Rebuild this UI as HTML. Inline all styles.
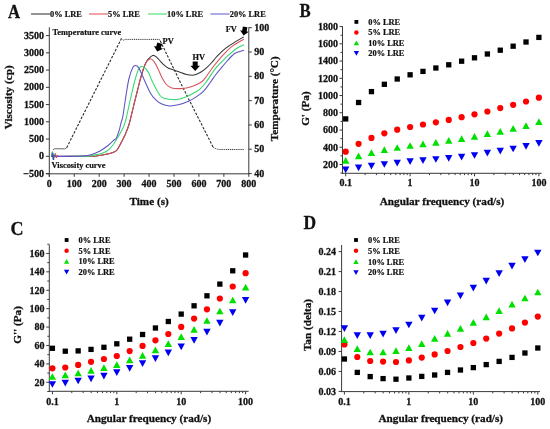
<!DOCTYPE html>
<html><head><meta charset="utf-8"><style>
html,body{margin:0;padding:0;background:#fff;}
body{width:550px;height:429px;overflow:hidden;}
svg{display:block;will-change:transform;}
text{font-family:"Liberation Serif",serif;font-weight:bold;fill:#111;stroke:#111;stroke-width:0.28px;}
</style></head><body>
<svg width="550" height="429" viewBox="0 0 550 429">
<rect width="550" height="429" fill="#fff"/>
<line x1="49.3" y1="27.3" x2="49.3" y2="176.8" stroke="#3a3a3a" stroke-width="1"/>
<line x1="46" y1="173.8" x2="248.8" y2="173.8" stroke="#3a3a3a" stroke-width="1"/>
<line x1="248.8" y1="27.3" x2="248.8" y2="174.3" stroke="#3a3a3a" stroke-width="1"/>
<line x1="45.9" y1="173.55" x2="49.3" y2="173.55" stroke="#3a3a3a" stroke-width="1"/>
<text x="44" y="176.55" font-size="10" text-anchor="end">&#8722;500</text>
<line x1="45.9" y1="156.3" x2="49.3" y2="156.3" stroke="#3a3a3a" stroke-width="1"/>
<text x="44" y="159.3" font-size="10" text-anchor="end">0</text>
<line x1="45.9" y1="139.06" x2="49.3" y2="139.06" stroke="#3a3a3a" stroke-width="1"/>
<text x="44" y="142.06" font-size="10" text-anchor="end">500</text>
<line x1="45.9" y1="121.81" x2="49.3" y2="121.81" stroke="#3a3a3a" stroke-width="1"/>
<text x="44" y="124.81" font-size="10" text-anchor="end">1000</text>
<line x1="45.9" y1="104.57" x2="49.3" y2="104.57" stroke="#3a3a3a" stroke-width="1"/>
<text x="44" y="107.57" font-size="10" text-anchor="end">1500</text>
<line x1="45.9" y1="87.32" x2="49.3" y2="87.32" stroke="#3a3a3a" stroke-width="1"/>
<text x="44" y="90.32" font-size="10" text-anchor="end">2000</text>
<line x1="45.9" y1="70.08" x2="49.3" y2="70.08" stroke="#3a3a3a" stroke-width="1"/>
<text x="44" y="73.08" font-size="10" text-anchor="end">2500</text>
<line x1="45.9" y1="52.83" x2="49.3" y2="52.83" stroke="#3a3a3a" stroke-width="1"/>
<text x="44" y="55.83" font-size="10" text-anchor="end">3000</text>
<line x1="45.9" y1="35.59" x2="49.3" y2="35.59" stroke="#3a3a3a" stroke-width="1"/>
<text x="44" y="38.59" font-size="10" text-anchor="end">3500</text>
<line x1="49.3" y1="173.8" x2="49.3" y2="176.8" stroke="#3a3a3a" stroke-width="1"/>
<text x="49.3" y="187.2" font-size="10" text-anchor="middle">0</text>
<line x1="74.24" y1="173.8" x2="74.24" y2="176.8" stroke="#3a3a3a" stroke-width="1"/>
<text x="74.24" y="187.2" font-size="10" text-anchor="middle">100</text>
<line x1="99.18" y1="173.8" x2="99.18" y2="176.8" stroke="#3a3a3a" stroke-width="1"/>
<text x="99.18" y="187.2" font-size="10" text-anchor="middle">200</text>
<line x1="124.11" y1="173.8" x2="124.11" y2="176.8" stroke="#3a3a3a" stroke-width="1"/>
<text x="124.11" y="187.2" font-size="10" text-anchor="middle">300</text>
<line x1="149.05" y1="173.8" x2="149.05" y2="176.8" stroke="#3a3a3a" stroke-width="1"/>
<text x="149.05" y="187.2" font-size="10" text-anchor="middle">400</text>
<line x1="173.99" y1="173.8" x2="173.99" y2="176.8" stroke="#3a3a3a" stroke-width="1"/>
<text x="173.99" y="187.2" font-size="10" text-anchor="middle">500</text>
<line x1="198.93" y1="173.8" x2="198.93" y2="176.8" stroke="#3a3a3a" stroke-width="1"/>
<text x="198.93" y="187.2" font-size="10" text-anchor="middle">600</text>
<line x1="223.87" y1="173.8" x2="223.87" y2="176.8" stroke="#3a3a3a" stroke-width="1"/>
<text x="223.87" y="187.2" font-size="10" text-anchor="middle">700</text>
<line x1="248.8" y1="173.8" x2="248.8" y2="176.8" stroke="#3a3a3a" stroke-width="1"/>
<text x="248.8" y="187.2" font-size="10" text-anchor="middle">800</text>
<line x1="248.8" y1="173.6" x2="251.8" y2="173.6" stroke="#3a3a3a" stroke-width="1"/>
<text x="254.2" y="176.6" font-size="10" text-anchor="start">40</text>
<line x1="248.8" y1="149.28" x2="251.8" y2="149.28" stroke="#3a3a3a" stroke-width="1"/>
<text x="254.2" y="152.28" font-size="10" text-anchor="start">50</text>
<line x1="248.8" y1="124.96" x2="251.8" y2="124.96" stroke="#3a3a3a" stroke-width="1"/>
<text x="254.2" y="127.96" font-size="10" text-anchor="start">60</text>
<line x1="248.8" y1="100.64" x2="251.8" y2="100.64" stroke="#3a3a3a" stroke-width="1"/>
<text x="254.2" y="103.64" font-size="10" text-anchor="start">70</text>
<line x1="248.8" y1="76.32" x2="251.8" y2="76.32" stroke="#3a3a3a" stroke-width="1"/>
<text x="254.2" y="79.32" font-size="10" text-anchor="start">80</text>
<line x1="248.8" y1="52" x2="251.8" y2="52" stroke="#3a3a3a" stroke-width="1"/>
<text x="254.2" y="55" font-size="10" text-anchor="start">90</text>
<line x1="248.8" y1="27.68" x2="251.8" y2="27.68" stroke="#3a3a3a" stroke-width="1"/>
<text x="254.2" y="30.68" font-size="10" text-anchor="start">100</text>
<text x="149.1" y="205.3" font-size="11.2" text-anchor="middle">Time (s)</text>
<text transform="translate(11.7,97.3) rotate(-90)" font-size="11.2" text-anchor="middle">Viscosity (cp)</text>
<text transform="translate(277.8,98.8) rotate(-90)" font-size="11.2" text-anchor="middle">Temperature (&#176;C)</text>
<text transform="translate(7.9,17.6) scale(0.88,1)" font-size="19">A</text>
<line x1="31" y1="14" x2="50" y2="14" stroke="#2a2a2a" stroke-width="1"/>
<text x="50" y="16.66" font-size="8.4" text-anchor="start" style="stroke-width:0.2px">0% LRE</text>
<line x1="89" y1="14" x2="108" y2="14" stroke="#e04848" stroke-width="1"/>
<text x="108" y="16.66" font-size="8.4" text-anchor="start" style="stroke-width:0.2px">5% LRE</text>
<line x1="148" y1="14" x2="167" y2="14" stroke="#30dd60" stroke-width="1"/>
<text x="167" y="16.66" font-size="8.4" text-anchor="start" style="stroke-width:0.2px">10% LRE</text>
<line x1="210.4" y1="14" x2="229.7" y2="14" stroke="#5a5ad0" stroke-width="1"/>
<text x="229.7" y="16.66" font-size="8.4" text-anchor="start" style="stroke-width:0.2px">20% LRE</text>
<text x="52.5" y="34.96" font-size="8.4" text-anchor="start" style="stroke-width:0.2px">Temperature curve</text>
<text x="51.6" y="167.7" font-size="8.4" text-anchor="start" style="stroke-width:0.2px">Viscosity curve</text>
<text x="162.6" y="43.6" font-size="8.4" text-anchor="start" style="stroke-width:0.2px">PV</text>
<text x="192.6" y="59.8" font-size="8.4" text-anchor="start" style="stroke-width:0.2px">HV</text>
<text x="225.7" y="31.8" font-size="8.4" text-anchor="start" style="stroke-width:0.2px">FV</text>
<path d="M53,149.8 Q54,148.6 56,148.7 L64.6,148.9 L66.7,147.7" fill="none" stroke="#555" stroke-width="0.9"/>
<path d="M66.7,147.7 L121.4,38.6" fill="none" stroke="#2a2a2a" stroke-width="1.1" stroke-dasharray="2.5,1.5"/>
<path d="M121.4,38.6 L123.6,40.2 L125,39.4 L159.5,39.4 L160.3,40.9" fill="none" stroke="#333" stroke-width="1.0" stroke-dasharray="1.1,0.8"/>
<path d="M160.3,40.9 L181.6,85 L213.2,147.3" fill="none" stroke="#2a2a2a" stroke-width="1.1" stroke-dasharray="2.5,1.5"/>
<path d="M213.2,147.3 Q216.5,149.4 220,149.5 L244,149.5" fill="none" stroke="#333" stroke-width="1.0" stroke-dasharray="1.1,0.8"/>
<path d="M51,156.4 C57.5,156.38 82.5,156.38 90,156.3 C97.5,156.22 93.5,156.18 96,155.9 C98.5,155.62 102.17,155.17 105,154.6 C107.83,154.03 111,153.27 113,152.5 C115,151.73 115.67,151.58 117,150 C118.33,148.42 119.67,145.5 121,143 C122.33,140.5 123.67,138.08 125,135 C126.33,131.92 127.58,129.28 129,124.5 C130.42,119.72 132.07,112.05 133.5,106.3 C134.93,100.55 136.43,94.63 137.6,90 C138.77,85.37 139.55,81.92 140.5,78.5 C141.45,75.08 142.3,72.33 143.3,69.5 C144.3,66.67 145.48,63.4 146.5,61.5 C147.52,59.6 148.37,59.12 149.4,58.1 C150.43,57.08 151.55,55.62 152.7,55.4 C153.85,55.18 155.02,55.82 156.3,56.8 C157.58,57.78 159.03,59.87 160.4,61.3 C161.77,62.73 163.13,64.23 164.5,65.4 C165.87,66.57 167.1,67.55 168.6,68.3 C170.1,69.05 171.73,69.3 173.5,69.9 C175.27,70.5 177.03,71.13 179.2,71.9 C181.37,72.67 184.03,73.97 186.5,74.5 C188.97,75.03 191.65,75.48 194,75.1 C196.35,74.72 198.57,73.37 200.6,72.2 C202.63,71.03 204.33,69.72 206.2,68.1 C208.07,66.48 209.93,64.53 211.8,62.5 C213.67,60.47 215.07,58.28 217.4,55.9 C219.73,53.52 223,50.42 225.8,48.2 C228.6,45.98 231.23,44.47 234.2,42.6 C237.17,40.73 242.03,37.93 243.6,37" fill="none" stroke="#333333" stroke-width="1.05"/>
<path d="M51,156.4 C57.5,156.38 82.5,156.38 90,156.3 C97.5,156.22 93.5,156.18 96,155.9 C98.5,155.62 102.17,155.17 105,154.6 C107.83,154.03 111,153.27 113,152.5 C115,151.73 115.67,151.58 117,150 C118.33,148.42 119.67,145.5 121,143 C122.33,140.5 123.67,138.08 125,135 C126.33,131.92 127.58,129.28 129,124.5 C130.42,119.72 132.07,112.05 133.5,106.3 C134.93,100.55 136.43,94.63 137.6,90 C138.77,85.37 139.28,82.73 140.5,78.5 C141.72,74.27 143.35,67.87 144.9,64.6 C146.45,61.33 148.3,59.45 149.8,58.9 C151.3,58.35 152.53,59.67 153.9,61.3 C155.27,62.93 156.65,65.97 158,68.7 C159.35,71.43 160.67,75.15 162,77.7 C163.33,80.25 164.38,82.28 166,84 C167.62,85.72 168.82,87.27 171.7,88 C174.58,88.73 179.82,88.7 183.3,88.4 C186.78,88.1 189.72,87.18 192.6,86.2 C195.48,85.22 198.65,83.67 200.6,82.5 C202.55,81.33 202.9,80.83 204.3,79.2 C205.7,77.57 207.45,74.87 209,72.7 C210.55,70.53 212.05,68.22 213.6,66.2 C215.15,64.18 216.73,62.43 218.3,60.6 C219.87,58.77 220.82,57.5 223,55.2 C225.18,52.9 227.9,49.48 231.4,46.8 C234.9,44.12 241.9,40.38 244,39.1" fill="none" stroke="#d85058" stroke-width="1.05"/>
<path d="M51,156.4 C56.67,156.38 78.17,156.47 85,156.3 C91.83,156.13 89.5,155.78 92,155.4 C94.5,155.02 97.5,154.73 100,154 C102.5,153.27 104.83,152.5 107,151 C109.17,149.5 111.17,147.33 113,145 C114.83,142.67 116.33,139.83 118,137 C119.67,134.17 121.75,130.67 123,128 C124.25,125.33 124.75,123.58 125.5,121 C126.25,118.42 126.58,116.58 127.5,112.5 C128.42,108.42 129.68,102.17 131,96.5 C132.32,90.83 134.1,83.08 135.4,78.5 C136.7,73.92 137.68,71.05 138.8,69 C139.92,66.95 140.97,66.27 142.1,66.2 C143.23,66.13 144.45,67.38 145.6,68.6 C146.75,69.82 147.9,71.38 149,73.5 C150.1,75.62 150.37,77.63 152.2,81.3 C154.03,84.97 157.7,92.58 160,95.5 C162.3,98.42 163.88,98.12 166,98.8 C168.12,99.48 170.37,99.58 172.7,99.6 C175.03,99.62 177.45,99.48 180,98.9 C182.55,98.32 185.5,97.2 188,96.1 C190.5,95 192.95,93.5 195,92.3 C197.05,91.1 198.43,90.62 200.3,88.9 C202.17,87.18 204.28,84.55 206.2,82 C208.12,79.45 209.93,76.23 211.8,73.6 C213.67,70.97 215.53,68.37 217.4,66.2 C219.27,64.03 221.3,62.32 223,60.6 C224.7,58.88 225.27,57.97 227.6,55.9 C229.93,53.83 234.27,50.07 237,48.2 C239.73,46.33 242.83,45.28 244,44.7" fill="none" stroke="#34d86e" stroke-width="1.05"/>
<path d="M51,156.4 C55.5,156.37 71.5,156.43 78,156.2 C84.5,155.97 86.33,155.87 90,155 C93.67,154.13 97,152.58 100,151 C103,149.42 105.67,147.33 108,145.5 C110.33,143.67 112.62,141.22 114,140 C115.38,138.78 115.47,139.7 116.3,138.2 C117.13,136.7 118.22,133.53 119,131 C119.78,128.47 120.35,125.48 121,123 C121.65,120.52 122.05,120.78 122.9,116.1 C123.75,111.42 125.08,101.17 126.1,94.9 C127.12,88.63 127.88,83.05 129,78.5 C130.12,73.95 131.73,69.78 132.8,67.6 C133.87,65.42 134.43,65.4 135.4,65.4 C136.37,65.4 137.32,65.63 138.6,67.6 C139.88,69.57 141.07,72.83 143.1,77.2 C145.13,81.57 148.58,89.95 150.8,93.8 C153.02,97.65 154.57,98.58 156.4,100.3 C158.23,102.02 159.63,103.17 161.8,104.1 C163.97,105.03 166.67,105.78 169.4,105.9 C172.13,106.02 174.92,105.62 178.2,104.8 C181.48,103.98 185.5,102.73 189.1,101 C192.7,99.27 197.27,96.17 199.8,94.4 C202.33,92.63 202.62,92.3 204.3,90.4 C205.98,88.5 208.03,85.57 209.9,83 C211.77,80.43 213.63,77.48 215.5,75 C217.37,72.52 219.23,70.35 221.1,68.1 C222.97,65.85 224.83,63.6 226.7,61.5 C228.57,59.4 230.82,56.9 232.3,55.5 C233.78,54.1 233.65,53.97 235.6,53.1 C237.55,52.23 242.6,50.77 244,50.3" fill="none" stroke="#5c54c4" stroke-width="1.05"/>
<path d="M51.6,156.4 L52.4,152 L53.2,159.5 L54,155 L55,156.4" fill="none" stroke="#2a2a2a" stroke-width="0.9"/>
<path d="M54.5,156.4 L55.3,153.3 L56.3,158 L57.2,155 L58,156.4" fill="none" stroke="#e04050" stroke-width="0.9"/>
<path d="M51.8,156.4 L52.6,151.5 L53.4,158.5 L54.2,154.5 L55.2,156.4" fill="none" stroke="#30d860" stroke-width="0.9"/>
<path d="M52,156.4 L52.8,153 L53.6,160 L54.4,155 L55.4,156.4" fill="none" stroke="#4040d0" stroke-width="0.9"/>
<path d="M157.2,51.6 L153.93,45.89 L156.12,46.57 L157.38,42.45 L162.16,43.92 L160.91,48.03 L163.11,48.7 Z" fill="#000"/>
<path d="M195.2,70.9 L190.4,65.7 L192.7,65.7 L192.7,61.6 L197.7,61.6 L197.7,65.7 L200,65.7 Z" fill="#000"/>
<path d="M243.6,35.6 L240.07,30.31 L242.13,30.67 L242.86,26.53 L247.39,27.33 L246.66,31.47 L248.73,31.83 Z" fill="#000"/>
<line x1="342.5" y1="26.2" x2="342.5" y2="173.8" stroke="#3a3a3a" stroke-width="1"/>
<line x1="342" y1="173.3" x2="541.6" y2="173.3" stroke="#3a3a3a" stroke-width="1"/>
<line x1="339.5" y1="164.5" x2="342.5" y2="164.5" stroke="#3a3a3a" stroke-width="1"/>
<text x="338" y="167.9" font-size="10" text-anchor="end">200</text>
<line x1="339.5" y1="147.26" x2="342.5" y2="147.26" stroke="#3a3a3a" stroke-width="1"/>
<text x="338" y="150.66" font-size="10" text-anchor="end">400</text>
<line x1="339.5" y1="130.02" x2="342.5" y2="130.02" stroke="#3a3a3a" stroke-width="1"/>
<text x="338" y="133.42" font-size="10" text-anchor="end">600</text>
<line x1="339.5" y1="112.78" x2="342.5" y2="112.78" stroke="#3a3a3a" stroke-width="1"/>
<text x="338" y="116.18" font-size="10" text-anchor="end">800</text>
<line x1="339.5" y1="95.54" x2="342.5" y2="95.54" stroke="#3a3a3a" stroke-width="1"/>
<text x="338" y="98.94" font-size="10" text-anchor="end">1000</text>
<line x1="339.5" y1="78.3" x2="342.5" y2="78.3" stroke="#3a3a3a" stroke-width="1"/>
<text x="338" y="81.7" font-size="10" text-anchor="end">1200</text>
<line x1="339.5" y1="61.06" x2="342.5" y2="61.06" stroke="#3a3a3a" stroke-width="1"/>
<text x="338" y="64.46" font-size="10" text-anchor="end">1400</text>
<line x1="339.5" y1="43.82" x2="342.5" y2="43.82" stroke="#3a3a3a" stroke-width="1"/>
<text x="338" y="47.22" font-size="10" text-anchor="end">1600</text>
<line x1="339.5" y1="26.58" x2="342.5" y2="26.58" stroke="#3a3a3a" stroke-width="1"/>
<text x="338" y="29.98" font-size="10" text-anchor="end">1800</text>
<line x1="340.5" y1="173.12" x2="342.5" y2="173.12" stroke="#3a3a3a" stroke-width="1"/>
<line x1="340.5" y1="155.88" x2="342.5" y2="155.88" stroke="#3a3a3a" stroke-width="1"/>
<line x1="340.5" y1="138.64" x2="342.5" y2="138.64" stroke="#3a3a3a" stroke-width="1"/>
<line x1="340.5" y1="121.4" x2="342.5" y2="121.4" stroke="#3a3a3a" stroke-width="1"/>
<line x1="340.5" y1="104.16" x2="342.5" y2="104.16" stroke="#3a3a3a" stroke-width="1"/>
<line x1="340.5" y1="86.92" x2="342.5" y2="86.92" stroke="#3a3a3a" stroke-width="1"/>
<line x1="340.5" y1="69.68" x2="342.5" y2="69.68" stroke="#3a3a3a" stroke-width="1"/>
<line x1="340.5" y1="52.44" x2="342.5" y2="52.44" stroke="#3a3a3a" stroke-width="1"/>
<line x1="340.5" y1="35.2" x2="342.5" y2="35.2" stroke="#3a3a3a" stroke-width="1"/>
<line x1="345.7" y1="173.3" x2="345.7" y2="176.3" stroke="#3a3a3a" stroke-width="1"/>
<text x="345.7" y="186.4" font-size="10" text-anchor="middle">0.1</text>
<line x1="365.09" y1="173.3" x2="365.09" y2="175.1" stroke="#3a3a3a" stroke-width="1"/>
<line x1="376.43" y1="173.3" x2="376.43" y2="175.1" stroke="#3a3a3a" stroke-width="1"/>
<line x1="384.47" y1="173.3" x2="384.47" y2="175.1" stroke="#3a3a3a" stroke-width="1"/>
<line x1="390.71" y1="173.3" x2="390.71" y2="175.1" stroke="#3a3a3a" stroke-width="1"/>
<line x1="395.81" y1="173.3" x2="395.81" y2="175.1" stroke="#3a3a3a" stroke-width="1"/>
<line x1="400.12" y1="173.3" x2="400.12" y2="175.1" stroke="#3a3a3a" stroke-width="1"/>
<line x1="403.86" y1="173.3" x2="403.86" y2="175.1" stroke="#3a3a3a" stroke-width="1"/>
<line x1="407.15" y1="173.3" x2="407.15" y2="175.1" stroke="#3a3a3a" stroke-width="1"/>
<line x1="410.1" y1="173.3" x2="410.1" y2="176.3" stroke="#3a3a3a" stroke-width="1"/>
<text x="410.1" y="186.4" font-size="10" text-anchor="middle">1</text>
<line x1="429.49" y1="173.3" x2="429.49" y2="175.1" stroke="#3a3a3a" stroke-width="1"/>
<line x1="440.83" y1="173.3" x2="440.83" y2="175.1" stroke="#3a3a3a" stroke-width="1"/>
<line x1="448.87" y1="173.3" x2="448.87" y2="175.1" stroke="#3a3a3a" stroke-width="1"/>
<line x1="455.11" y1="173.3" x2="455.11" y2="175.1" stroke="#3a3a3a" stroke-width="1"/>
<line x1="460.21" y1="173.3" x2="460.21" y2="175.1" stroke="#3a3a3a" stroke-width="1"/>
<line x1="464.52" y1="173.3" x2="464.52" y2="175.1" stroke="#3a3a3a" stroke-width="1"/>
<line x1="468.26" y1="173.3" x2="468.26" y2="175.1" stroke="#3a3a3a" stroke-width="1"/>
<line x1="471.55" y1="173.3" x2="471.55" y2="175.1" stroke="#3a3a3a" stroke-width="1"/>
<line x1="474.5" y1="173.3" x2="474.5" y2="176.3" stroke="#3a3a3a" stroke-width="1"/>
<text x="474.5" y="186.4" font-size="10" text-anchor="middle">10</text>
<line x1="493.89" y1="173.3" x2="493.89" y2="175.1" stroke="#3a3a3a" stroke-width="1"/>
<line x1="505.23" y1="173.3" x2="505.23" y2="175.1" stroke="#3a3a3a" stroke-width="1"/>
<line x1="513.27" y1="173.3" x2="513.27" y2="175.1" stroke="#3a3a3a" stroke-width="1"/>
<line x1="519.51" y1="173.3" x2="519.51" y2="175.1" stroke="#3a3a3a" stroke-width="1"/>
<line x1="524.61" y1="173.3" x2="524.61" y2="175.1" stroke="#3a3a3a" stroke-width="1"/>
<line x1="528.92" y1="173.3" x2="528.92" y2="175.1" stroke="#3a3a3a" stroke-width="1"/>
<line x1="532.66" y1="173.3" x2="532.66" y2="175.1" stroke="#3a3a3a" stroke-width="1"/>
<line x1="535.95" y1="173.3" x2="535.95" y2="175.1" stroke="#3a3a3a" stroke-width="1"/>
<line x1="538.9" y1="173.3" x2="538.9" y2="176.3" stroke="#3a3a3a" stroke-width="1"/>
<text x="538.9" y="186.4" font-size="10" text-anchor="middle">100</text>
<text x="442.05" y="205" font-size="11.2" text-anchor="middle">Angular frequency (rad/s)</text>
<text transform="translate(309.3,108.6) rotate(-90)" font-size="11.2" text-anchor="middle">G' (Pa)</text>
<text transform="translate(299.4,17.3) scale(0.88,1)" font-size="19">B</text>
<rect x="354.49" y="19.99" width="3.82" height="3.82" fill="#000"/>
<text x="368.3" y="24.76" font-size="8.4" text-anchor="start" style="stroke-width:0.2px">0% LRE</text>
<circle cx="356.4" cy="32.4" r="2.23" fill="#f00"/>
<text x="368.3" y="35.26" font-size="8.4" text-anchor="start" style="stroke-width:0.2px">5% LRE</text>
<path d="M356.4,40.49 L359.06,45.31 L353.74,45.31 Z" fill="#00e000"/>
<text x="368.3" y="45.76" font-size="8.4" text-anchor="start" style="stroke-width:0.2px">10% LRE</text>
<path d="M353.74,50.99 L359.06,50.99 L356.4,55.81 Z" fill="#0000f0"/>
<text x="368.3" y="56.26" font-size="8.4" text-anchor="start" style="stroke-width:0.2px">20% LRE</text>
<rect x="343.05" y="116.25" width="5.3" height="5.3" fill="#000"/>
<rect x="355.93" y="99.85" width="5.3" height="5.3" fill="#000"/>
<rect x="368.81" y="88.95" width="5.3" height="5.3" fill="#000"/>
<rect x="381.69" y="81.65" width="5.3" height="5.3" fill="#000"/>
<rect x="394.57" y="76.35" width="5.3" height="5.3" fill="#000"/>
<rect x="407.45" y="72.15" width="5.3" height="5.3" fill="#000"/>
<rect x="420.33" y="68.75" width="5.3" height="5.3" fill="#000"/>
<rect x="433.21" y="65.35" width="5.3" height="5.3" fill="#000"/>
<rect x="446.09" y="62.15" width="5.3" height="5.3" fill="#000"/>
<rect x="458.97" y="58.55" width="5.3" height="5.3" fill="#000"/>
<rect x="471.85" y="55.15" width="5.3" height="5.3" fill="#000"/>
<rect x="484.73" y="51.35" width="5.3" height="5.3" fill="#000"/>
<rect x="497.61" y="47.55" width="5.3" height="5.3" fill="#000"/>
<rect x="510.49" y="43.55" width="5.3" height="5.3" fill="#000"/>
<rect x="523.37" y="39.35" width="5.3" height="5.3" fill="#000"/>
<rect x="536.25" y="34.75" width="5.3" height="5.3" fill="#000"/>
<circle cx="345.7" cy="151.7" r="3.1" fill="#f00"/>
<circle cx="358.58" cy="143.8" r="3.1" fill="#f00"/>
<circle cx="371.46" cy="137.9" r="3.1" fill="#f00"/>
<circle cx="384.34" cy="133.3" r="3.1" fill="#f00"/>
<circle cx="397.22" cy="129.7" r="3.1" fill="#f00"/>
<circle cx="410.1" cy="127" r="3.1" fill="#f00"/>
<circle cx="422.98" cy="124.5" r="3.1" fill="#f00"/>
<circle cx="435.86" cy="122.3" r="3.1" fill="#f00"/>
<circle cx="448.74" cy="119.9" r="3.1" fill="#f00"/>
<circle cx="461.62" cy="117.2" r="3.1" fill="#f00"/>
<circle cx="474.5" cy="114.3" r="3.1" fill="#f00"/>
<circle cx="487.38" cy="111.5" r="3.1" fill="#f00"/>
<circle cx="500.26" cy="108.1" r="3.1" fill="#f00"/>
<circle cx="513.14" cy="104.8" r="3.1" fill="#f00"/>
<circle cx="526.02" cy="101.5" r="3.1" fill="#f00"/>
<circle cx="538.9" cy="97.7" r="3.1" fill="#f00"/>
<path d="M345.7,157.05 L349.4,163.75 L342,163.75 Z" fill="#00e000"/>
<path d="M358.58,152.55 L362.28,159.25 L354.88,159.25 Z" fill="#00e000"/>
<path d="M371.46,149.25 L375.16,155.95 L367.76,155.95 Z" fill="#00e000"/>
<path d="M384.34,146.35 L388.04,153.05 L380.64,153.05 Z" fill="#00e000"/>
<path d="M397.22,144.15 L400.92,150.85 L393.52,150.85 Z" fill="#00e000"/>
<path d="M410.1,142.15 L413.8,148.85 L406.4,148.85 Z" fill="#00e000"/>
<path d="M422.98,140.45 L426.68,147.15 L419.28,147.15 Z" fill="#00e000"/>
<path d="M435.86,138.95 L439.56,145.65 L432.16,145.65 Z" fill="#00e000"/>
<path d="M448.74,136.95 L452.44,143.65 L445.04,143.65 Z" fill="#00e000"/>
<path d="M461.62,135.35 L465.32,142.05 L457.92,142.05 Z" fill="#00e000"/>
<path d="M474.5,132.95 L478.2,139.65 L470.8,139.65 Z" fill="#00e000"/>
<path d="M487.38,130.25 L491.08,136.95 L483.68,136.95 Z" fill="#00e000"/>
<path d="M500.26,128.05 L503.96,134.75 L496.56,134.75 Z" fill="#00e000"/>
<path d="M513.14,124.95 L516.84,131.65 L509.44,131.65 Z" fill="#00e000"/>
<path d="M526.02,122.25 L529.72,128.95 L522.32,128.95 Z" fill="#00e000"/>
<path d="M538.9,118.25 L542.6,124.95 L535.2,124.95 Z" fill="#00e000"/>
<path d="M342,166.45 L349.4,166.45 L345.7,173.15 Z" fill="#0000f0"/>
<path d="M354.88,164.55 L362.28,164.55 L358.58,171.25 Z" fill="#0000f0"/>
<path d="M367.76,162.85 L375.16,162.85 L371.46,169.55 Z" fill="#0000f0"/>
<path d="M380.64,161.15 L388.04,161.15 L384.34,167.85 Z" fill="#0000f0"/>
<path d="M393.52,159.75 L400.92,159.75 L397.22,166.45 Z" fill="#0000f0"/>
<path d="M406.4,158.25 L413.8,158.25 L410.1,164.95 Z" fill="#0000f0"/>
<path d="M419.28,157.35 L426.68,157.35 L422.98,164.05 Z" fill="#0000f0"/>
<path d="M432.16,156.15 L439.56,156.15 L435.86,162.85 Z" fill="#0000f0"/>
<path d="M445.04,154.95 L452.44,154.95 L448.74,161.65 Z" fill="#0000f0"/>
<path d="M457.92,153.85 L465.32,153.85 L461.62,160.55 Z" fill="#0000f0"/>
<path d="M470.8,152.15 L478.2,152.15 L474.5,158.85 Z" fill="#0000f0"/>
<path d="M483.68,149.85 L491.08,149.85 L487.38,156.55 Z" fill="#0000f0"/>
<path d="M496.56,147.85 L503.96,147.85 L500.26,154.55 Z" fill="#0000f0"/>
<path d="M509.44,145.65 L516.84,145.65 L513.14,152.35 Z" fill="#0000f0"/>
<path d="M522.32,143.05 L529.72,143.05 L526.02,149.75 Z" fill="#0000f0"/>
<path d="M535.2,139.95 L542.6,139.95 L538.9,146.65 Z" fill="#0000f0"/>
<line x1="49.3" y1="244.6" x2="49.3" y2="391.8" stroke="#3a3a3a" stroke-width="1"/>
<line x1="48.8" y1="391.3" x2="248.6" y2="391.3" stroke="#3a3a3a" stroke-width="1"/>
<line x1="46.3" y1="382.3" x2="49.3" y2="382.3" stroke="#3a3a3a" stroke-width="1"/>
<text x="44.4" y="385.7" font-size="10" text-anchor="end">20</text>
<line x1="46.3" y1="363.89" x2="49.3" y2="363.89" stroke="#3a3a3a" stroke-width="1"/>
<text x="44.4" y="367.29" font-size="10" text-anchor="end">40</text>
<line x1="46.3" y1="345.48" x2="49.3" y2="345.48" stroke="#3a3a3a" stroke-width="1"/>
<text x="44.4" y="348.88" font-size="10" text-anchor="end">60</text>
<line x1="46.3" y1="327.07" x2="49.3" y2="327.07" stroke="#3a3a3a" stroke-width="1"/>
<text x="44.4" y="330.47" font-size="10" text-anchor="end">80</text>
<line x1="46.3" y1="308.66" x2="49.3" y2="308.66" stroke="#3a3a3a" stroke-width="1"/>
<text x="44.4" y="312.06" font-size="10" text-anchor="end">100</text>
<line x1="46.3" y1="290.25" x2="49.3" y2="290.25" stroke="#3a3a3a" stroke-width="1"/>
<text x="44.4" y="293.65" font-size="10" text-anchor="end">120</text>
<line x1="46.3" y1="271.84" x2="49.3" y2="271.84" stroke="#3a3a3a" stroke-width="1"/>
<text x="44.4" y="275.24" font-size="10" text-anchor="end">140</text>
<line x1="46.3" y1="253.43" x2="49.3" y2="253.43" stroke="#3a3a3a" stroke-width="1"/>
<text x="44.4" y="256.83" font-size="10" text-anchor="end">160</text>
<line x1="47.3" y1="391.5" x2="49.3" y2="391.5" stroke="#3a3a3a" stroke-width="1"/>
<line x1="47.3" y1="373.1" x2="49.3" y2="373.1" stroke="#3a3a3a" stroke-width="1"/>
<line x1="47.3" y1="354.69" x2="49.3" y2="354.69" stroke="#3a3a3a" stroke-width="1"/>
<line x1="47.3" y1="336.28" x2="49.3" y2="336.28" stroke="#3a3a3a" stroke-width="1"/>
<line x1="47.3" y1="317.87" x2="49.3" y2="317.87" stroke="#3a3a3a" stroke-width="1"/>
<line x1="47.3" y1="299.46" x2="49.3" y2="299.46" stroke="#3a3a3a" stroke-width="1"/>
<line x1="47.3" y1="281.05" x2="49.3" y2="281.05" stroke="#3a3a3a" stroke-width="1"/>
<line x1="47.3" y1="262.63" x2="49.3" y2="262.63" stroke="#3a3a3a" stroke-width="1"/>
<line x1="47.3" y1="244.23" x2="49.3" y2="244.23" stroke="#3a3a3a" stroke-width="1"/>
<line x1="52.4" y1="391.3" x2="52.4" y2="394.3" stroke="#3a3a3a" stroke-width="1"/>
<text x="52.4" y="404.5" font-size="10" text-anchor="middle">0.1</text>
<line x1="71.79" y1="391.3" x2="71.79" y2="393.1" stroke="#3a3a3a" stroke-width="1"/>
<line x1="83.13" y1="391.3" x2="83.13" y2="393.1" stroke="#3a3a3a" stroke-width="1"/>
<line x1="91.17" y1="391.3" x2="91.17" y2="393.1" stroke="#3a3a3a" stroke-width="1"/>
<line x1="97.41" y1="391.3" x2="97.41" y2="393.1" stroke="#3a3a3a" stroke-width="1"/>
<line x1="102.51" y1="391.3" x2="102.51" y2="393.1" stroke="#3a3a3a" stroke-width="1"/>
<line x1="106.82" y1="391.3" x2="106.82" y2="393.1" stroke="#3a3a3a" stroke-width="1"/>
<line x1="110.56" y1="391.3" x2="110.56" y2="393.1" stroke="#3a3a3a" stroke-width="1"/>
<line x1="113.85" y1="391.3" x2="113.85" y2="393.1" stroke="#3a3a3a" stroke-width="1"/>
<line x1="116.8" y1="391.3" x2="116.8" y2="394.3" stroke="#3a3a3a" stroke-width="1"/>
<text x="116.8" y="404.5" font-size="10" text-anchor="middle">1</text>
<line x1="136.19" y1="391.3" x2="136.19" y2="393.1" stroke="#3a3a3a" stroke-width="1"/>
<line x1="147.53" y1="391.3" x2="147.53" y2="393.1" stroke="#3a3a3a" stroke-width="1"/>
<line x1="155.57" y1="391.3" x2="155.57" y2="393.1" stroke="#3a3a3a" stroke-width="1"/>
<line x1="161.81" y1="391.3" x2="161.81" y2="393.1" stroke="#3a3a3a" stroke-width="1"/>
<line x1="166.91" y1="391.3" x2="166.91" y2="393.1" stroke="#3a3a3a" stroke-width="1"/>
<line x1="171.22" y1="391.3" x2="171.22" y2="393.1" stroke="#3a3a3a" stroke-width="1"/>
<line x1="174.96" y1="391.3" x2="174.96" y2="393.1" stroke="#3a3a3a" stroke-width="1"/>
<line x1="178.25" y1="391.3" x2="178.25" y2="393.1" stroke="#3a3a3a" stroke-width="1"/>
<line x1="181.2" y1="391.3" x2="181.2" y2="394.3" stroke="#3a3a3a" stroke-width="1"/>
<text x="181.2" y="404.5" font-size="10" text-anchor="middle">10</text>
<line x1="200.59" y1="391.3" x2="200.59" y2="393.1" stroke="#3a3a3a" stroke-width="1"/>
<line x1="211.93" y1="391.3" x2="211.93" y2="393.1" stroke="#3a3a3a" stroke-width="1"/>
<line x1="219.97" y1="391.3" x2="219.97" y2="393.1" stroke="#3a3a3a" stroke-width="1"/>
<line x1="226.21" y1="391.3" x2="226.21" y2="393.1" stroke="#3a3a3a" stroke-width="1"/>
<line x1="231.31" y1="391.3" x2="231.31" y2="393.1" stroke="#3a3a3a" stroke-width="1"/>
<line x1="235.62" y1="391.3" x2="235.62" y2="393.1" stroke="#3a3a3a" stroke-width="1"/>
<line x1="239.36" y1="391.3" x2="239.36" y2="393.1" stroke="#3a3a3a" stroke-width="1"/>
<line x1="242.65" y1="391.3" x2="242.65" y2="393.1" stroke="#3a3a3a" stroke-width="1"/>
<line x1="245.6" y1="391.3" x2="245.6" y2="394.3" stroke="#3a3a3a" stroke-width="1"/>
<text x="245.6" y="404.5" font-size="10" text-anchor="middle">100</text>
<text x="148.95" y="422" font-size="11.2" text-anchor="middle">Angular frequency (rad/s)</text>
<text transform="translate(21.4,324.9) rotate(-90)" font-size="11.2" text-anchor="middle">G'' (Pa)</text>
<text transform="translate(10.6,235.1) scale(0.95,1)" font-size="19">C</text>
<rect x="64.69" y="238.09" width="3.82" height="3.82" fill="#000"/>
<text x="78.6" y="242.86" font-size="8.4" text-anchor="start" style="stroke-width:0.2px">0% LRE</text>
<circle cx="66.6" cy="250.7" r="2.23" fill="#f00"/>
<text x="78.6" y="253.56" font-size="8.4" text-anchor="start" style="stroke-width:0.2px">5% LRE</text>
<path d="M66.6,258.99 L69.26,263.81 L63.94,263.81 Z" fill="#00e000"/>
<text x="78.6" y="264.26" font-size="8.4" text-anchor="start" style="stroke-width:0.2px">10% LRE</text>
<path d="M63.94,269.69 L69.26,269.69 L66.6,274.51 Z" fill="#0000f0"/>
<text x="78.6" y="274.96" font-size="8.4" text-anchor="start" style="stroke-width:0.2px">20% LRE</text>
<rect x="49.75" y="345.65" width="5.3" height="5.3" fill="#000"/>
<rect x="62.63" y="348.55" width="5.3" height="5.3" fill="#000"/>
<rect x="75.51" y="348.25" width="5.3" height="5.3" fill="#000"/>
<rect x="88.39" y="346.75" width="5.3" height="5.3" fill="#000"/>
<rect x="101.27" y="344.65" width="5.3" height="5.3" fill="#000"/>
<rect x="114.15" y="341.15" width="5.3" height="5.3" fill="#000"/>
<rect x="127.03" y="336.55" width="5.3" height="5.3" fill="#000"/>
<rect x="139.91" y="331.85" width="5.3" height="5.3" fill="#000"/>
<rect x="152.79" y="325.35" width="5.3" height="5.3" fill="#000"/>
<rect x="165.67" y="318.85" width="5.3" height="5.3" fill="#000"/>
<rect x="178.55" y="311.45" width="5.3" height="5.3" fill="#000"/>
<rect x="191.43" y="303.15" width="5.3" height="5.3" fill="#000"/>
<rect x="204.31" y="293.15" width="5.3" height="5.3" fill="#000"/>
<rect x="217.19" y="281.45" width="5.3" height="5.3" fill="#000"/>
<rect x="230.07" y="268.15" width="5.3" height="5.3" fill="#000"/>
<rect x="242.95" y="252.35" width="5.3" height="5.3" fill="#000"/>
<circle cx="52.4" cy="368.3" r="3.1" fill="#f00"/>
<circle cx="65.28" cy="367.5" r="3.1" fill="#f00"/>
<circle cx="78.16" cy="364.9" r="3.1" fill="#f00"/>
<circle cx="91.04" cy="361.8" r="3.1" fill="#f00"/>
<circle cx="103.92" cy="359" r="3.1" fill="#f00"/>
<circle cx="116.8" cy="356" r="3.1" fill="#f00"/>
<circle cx="129.68" cy="351.1" r="3.1" fill="#f00"/>
<circle cx="142.56" cy="345.9" r="3.1" fill="#f00"/>
<circle cx="155.44" cy="340.3" r="3.1" fill="#f00"/>
<circle cx="168.32" cy="334" r="3.1" fill="#f00"/>
<circle cx="181.2" cy="326.9" r="3.1" fill="#f00"/>
<circle cx="194.08" cy="318.6" r="3.1" fill="#f00"/>
<circle cx="206.96" cy="309.3" r="3.1" fill="#f00"/>
<circle cx="219.84" cy="298.5" r="3.1" fill="#f00"/>
<circle cx="232.72" cy="286.5" r="3.1" fill="#f00"/>
<circle cx="245.6" cy="273.2" r="3.1" fill="#f00"/>
<path d="M52.4,373.15 L56.1,379.85 L48.7,379.85 Z" fill="#00e000"/>
<path d="M65.28,371.45 L68.98,378.15 L61.58,378.15 Z" fill="#00e000"/>
<path d="M78.16,369.65 L81.86,376.35 L74.46,376.35 Z" fill="#00e000"/>
<path d="M91.04,367.05 L94.74,373.75 L87.34,373.75 Z" fill="#00e000"/>
<path d="M103.92,364.25 L107.62,370.95 L100.22,370.95 Z" fill="#00e000"/>
<path d="M116.8,361.25 L120.5,367.95 L113.1,367.95 Z" fill="#00e000"/>
<path d="M129.68,356.55 L133.38,363.25 L125.98,363.25 Z" fill="#00e000"/>
<path d="M142.56,351.95 L146.26,358.65 L138.86,358.65 Z" fill="#00e000"/>
<path d="M155.44,346.55 L159.14,353.25 L151.74,353.25 Z" fill="#00e000"/>
<path d="M168.32,340.25 L172.02,346.95 L164.62,346.95 Z" fill="#00e000"/>
<path d="M181.2,333.35 L184.9,340.05 L177.5,340.05 Z" fill="#00e000"/>
<path d="M194.08,326.05 L197.78,332.75 L190.38,332.75 Z" fill="#00e000"/>
<path d="M206.96,317.15 L210.66,323.85 L203.26,323.85 Z" fill="#00e000"/>
<path d="M219.84,307.65 L223.54,314.35 L216.14,314.35 Z" fill="#00e000"/>
<path d="M232.72,296.65 L236.42,303.35 L229.02,303.35 Z" fill="#00e000"/>
<path d="M245.6,283.85 L249.3,290.55 L241.9,290.55 Z" fill="#00e000"/>
<path d="M48.7,381.15 L56.1,381.15 L52.4,387.85 Z" fill="#0000f0"/>
<path d="M61.58,379.85 L68.98,379.85 L65.28,386.55 Z" fill="#0000f0"/>
<path d="M74.46,377.65 L81.86,377.65 L78.16,384.35 Z" fill="#0000f0"/>
<path d="M87.34,375.55 L94.74,375.55 L91.04,382.25 Z" fill="#0000f0"/>
<path d="M100.22,372.75 L107.62,372.75 L103.92,379.45 Z" fill="#0000f0"/>
<path d="M113.1,369.25 L120.5,369.25 L116.8,375.95 Z" fill="#0000f0"/>
<path d="M125.98,365.05 L133.38,365.05 L129.68,371.75 Z" fill="#0000f0"/>
<path d="M138.86,360.35 L146.26,360.35 L142.56,367.05 Z" fill="#0000f0"/>
<path d="M151.74,355.25 L159.14,355.25 L155.44,361.95 Z" fill="#0000f0"/>
<path d="M164.62,349.45 L172.02,349.45 L168.32,356.15 Z" fill="#0000f0"/>
<path d="M177.5,343.55 L184.9,343.55 L181.2,350.25 Z" fill="#0000f0"/>
<path d="M190.38,336.95 L197.78,336.95 L194.08,343.65 Z" fill="#0000f0"/>
<path d="M203.26,328.75 L210.66,328.75 L206.96,335.45 Z" fill="#0000f0"/>
<path d="M216.14,319.85 L223.54,319.85 L219.84,326.55 Z" fill="#0000f0"/>
<path d="M229.02,309.35 L236.42,309.35 L232.72,316.05 Z" fill="#0000f0"/>
<path d="M241.9,296.95 L249.3,296.95 L245.6,303.65 Z" fill="#0000f0"/>
<line x1="341.6" y1="245" x2="341.6" y2="392.1" stroke="#3a3a3a" stroke-width="1"/>
<line x1="341.1" y1="391.6" x2="540" y2="391.6" stroke="#3a3a3a" stroke-width="1"/>
<line x1="338.6" y1="391.4" x2="341.6" y2="391.4" stroke="#3a3a3a" stroke-width="1"/>
<text x="336" y="394.8" font-size="10" text-anchor="end">0.03</text>
<line x1="338.6" y1="371.43" x2="341.6" y2="371.43" stroke="#3a3a3a" stroke-width="1"/>
<text x="336" y="374.83" font-size="10" text-anchor="end">0.06</text>
<line x1="338.6" y1="351.46" x2="341.6" y2="351.46" stroke="#3a3a3a" stroke-width="1"/>
<text x="336" y="354.86" font-size="10" text-anchor="end">0.09</text>
<line x1="338.6" y1="331.49" x2="341.6" y2="331.49" stroke="#3a3a3a" stroke-width="1"/>
<text x="336" y="334.89" font-size="10" text-anchor="end">0.12</text>
<line x1="338.6" y1="311.52" x2="341.6" y2="311.52" stroke="#3a3a3a" stroke-width="1"/>
<text x="336" y="314.92" font-size="10" text-anchor="end">0.15</text>
<line x1="338.6" y1="291.55" x2="341.6" y2="291.55" stroke="#3a3a3a" stroke-width="1"/>
<text x="336" y="294.95" font-size="10" text-anchor="end">0.18</text>
<line x1="338.6" y1="271.58" x2="341.6" y2="271.58" stroke="#3a3a3a" stroke-width="1"/>
<text x="336" y="274.98" font-size="10" text-anchor="end">0.21</text>
<line x1="338.6" y1="251.61" x2="341.6" y2="251.61" stroke="#3a3a3a" stroke-width="1"/>
<text x="336" y="255.01" font-size="10" text-anchor="end">0.24</text>
<line x1="344.4" y1="391.6" x2="344.4" y2="394.6" stroke="#3a3a3a" stroke-width="1"/>
<text x="344.4" y="405.2" font-size="10" text-anchor="middle">0.1</text>
<line x1="363.81" y1="391.6" x2="363.81" y2="393.4" stroke="#3a3a3a" stroke-width="1"/>
<line x1="375.16" y1="391.6" x2="375.16" y2="393.4" stroke="#3a3a3a" stroke-width="1"/>
<line x1="383.21" y1="391.6" x2="383.21" y2="393.4" stroke="#3a3a3a" stroke-width="1"/>
<line x1="389.46" y1="391.6" x2="389.46" y2="393.4" stroke="#3a3a3a" stroke-width="1"/>
<line x1="394.57" y1="391.6" x2="394.57" y2="393.4" stroke="#3a3a3a" stroke-width="1"/>
<line x1="398.88" y1="391.6" x2="398.88" y2="393.4" stroke="#3a3a3a" stroke-width="1"/>
<line x1="402.62" y1="391.6" x2="402.62" y2="393.4" stroke="#3a3a3a" stroke-width="1"/>
<line x1="405.92" y1="391.6" x2="405.92" y2="393.4" stroke="#3a3a3a" stroke-width="1"/>
<line x1="408.87" y1="391.6" x2="408.87" y2="394.6" stroke="#3a3a3a" stroke-width="1"/>
<text x="408.87" y="405.2" font-size="10" text-anchor="middle">1</text>
<line x1="428.28" y1="391.6" x2="428.28" y2="393.4" stroke="#3a3a3a" stroke-width="1"/>
<line x1="439.63" y1="391.6" x2="439.63" y2="393.4" stroke="#3a3a3a" stroke-width="1"/>
<line x1="447.68" y1="391.6" x2="447.68" y2="393.4" stroke="#3a3a3a" stroke-width="1"/>
<line x1="453.93" y1="391.6" x2="453.93" y2="393.4" stroke="#3a3a3a" stroke-width="1"/>
<line x1="459.04" y1="391.6" x2="459.04" y2="393.4" stroke="#3a3a3a" stroke-width="1"/>
<line x1="463.35" y1="391.6" x2="463.35" y2="393.4" stroke="#3a3a3a" stroke-width="1"/>
<line x1="467.09" y1="391.6" x2="467.09" y2="393.4" stroke="#3a3a3a" stroke-width="1"/>
<line x1="470.39" y1="391.6" x2="470.39" y2="393.4" stroke="#3a3a3a" stroke-width="1"/>
<line x1="473.34" y1="391.6" x2="473.34" y2="394.6" stroke="#3a3a3a" stroke-width="1"/>
<text x="473.34" y="405.2" font-size="10" text-anchor="middle">10</text>
<line x1="492.75" y1="391.6" x2="492.75" y2="393.4" stroke="#3a3a3a" stroke-width="1"/>
<line x1="504.1" y1="391.6" x2="504.1" y2="393.4" stroke="#3a3a3a" stroke-width="1"/>
<line x1="512.15" y1="391.6" x2="512.15" y2="393.4" stroke="#3a3a3a" stroke-width="1"/>
<line x1="518.4" y1="391.6" x2="518.4" y2="393.4" stroke="#3a3a3a" stroke-width="1"/>
<line x1="523.51" y1="391.6" x2="523.51" y2="393.4" stroke="#3a3a3a" stroke-width="1"/>
<line x1="527.82" y1="391.6" x2="527.82" y2="393.4" stroke="#3a3a3a" stroke-width="1"/>
<line x1="531.56" y1="391.6" x2="531.56" y2="393.4" stroke="#3a3a3a" stroke-width="1"/>
<line x1="534.86" y1="391.6" x2="534.86" y2="393.4" stroke="#3a3a3a" stroke-width="1"/>
<line x1="537.81" y1="391.6" x2="537.81" y2="394.6" stroke="#3a3a3a" stroke-width="1"/>
<text x="537.81" y="405.2" font-size="10" text-anchor="middle">100</text>
<text x="440.8" y="422" font-size="11.2" text-anchor="middle">Angular frequency (rad/s)</text>
<text transform="translate(311.2,325) rotate(-90)" font-size="11.2" text-anchor="middle">Tan (delta)</text>
<text transform="translate(303.6,229.1) scale(0.92,1)" font-size="19">D</text>
<rect x="354.09" y="238.09" width="3.82" height="3.82" fill="#000"/>
<text x="368" y="242.86" font-size="8.4" text-anchor="start" style="stroke-width:0.2px">0% LRE</text>
<circle cx="356" cy="250.85" r="2.23" fill="#f00"/>
<text x="368" y="253.71" font-size="8.4" text-anchor="start" style="stroke-width:0.2px">5% LRE</text>
<path d="M356,259.29 L358.66,264.11 L353.34,264.11 Z" fill="#00e000"/>
<text x="368" y="264.56" font-size="8.4" text-anchor="start" style="stroke-width:0.2px">10% LRE</text>
<path d="M353.34,270.14 L358.66,270.14 L356,274.96 Z" fill="#0000f0"/>
<text x="368" y="275.41" font-size="8.4" text-anchor="start" style="stroke-width:0.2px">20% LRE</text>
<rect x="341.75" y="356.35" width="5.3" height="5.3" fill="#000"/>
<rect x="354.64" y="369.75" width="5.3" height="5.3" fill="#000"/>
<rect x="367.54" y="373.95" width="5.3" height="5.3" fill="#000"/>
<rect x="380.43" y="375.95" width="5.3" height="5.3" fill="#000"/>
<rect x="393.33" y="376.55" width="5.3" height="5.3" fill="#000"/>
<rect x="406.22" y="375.35" width="5.3" height="5.3" fill="#000"/>
<rect x="419.11" y="373.75" width="5.3" height="5.3" fill="#000"/>
<rect x="432.01" y="372.35" width="5.3" height="5.3" fill="#000"/>
<rect x="444.9" y="369.75" width="5.3" height="5.3" fill="#000"/>
<rect x="457.8" y="367.35" width="5.3" height="5.3" fill="#000"/>
<rect x="470.69" y="364.95" width="5.3" height="5.3" fill="#000"/>
<rect x="483.58" y="361.95" width="5.3" height="5.3" fill="#000"/>
<rect x="496.48" y="358.75" width="5.3" height="5.3" fill="#000"/>
<rect x="509.37" y="354.75" width="5.3" height="5.3" fill="#000"/>
<rect x="522.27" y="350.35" width="5.3" height="5.3" fill="#000"/>
<rect x="535.16" y="345.35" width="5.3" height="5.3" fill="#000"/>
<circle cx="344.4" cy="344.4" r="3.1" fill="#f00"/>
<circle cx="357.29" cy="357" r="3.1" fill="#f00"/>
<circle cx="370.19" cy="361" r="3.1" fill="#f00"/>
<circle cx="383.08" cy="361.6" r="3.1" fill="#f00"/>
<circle cx="395.98" cy="362" r="3.1" fill="#f00"/>
<circle cx="408.87" cy="360.4" r="3.1" fill="#f00"/>
<circle cx="421.76" cy="357.6" r="3.1" fill="#f00"/>
<circle cx="434.66" cy="354.4" r="3.1" fill="#f00"/>
<circle cx="447.55" cy="351" r="3.1" fill="#f00"/>
<circle cx="460.45" cy="347" r="3.1" fill="#f00"/>
<circle cx="473.34" cy="343" r="3.1" fill="#f00"/>
<circle cx="486.23" cy="338.6" r="3.1" fill="#f00"/>
<circle cx="499.13" cy="333.6" r="3.1" fill="#f00"/>
<circle cx="512.02" cy="328.4" r="3.1" fill="#f00"/>
<circle cx="524.92" cy="322.6" r="3.1" fill="#f00"/>
<circle cx="537.81" cy="316.6" r="3.1" fill="#f00"/>
<path d="M344.4,336.25 L348.1,342.95 L340.7,342.95 Z" fill="#00e000"/>
<path d="M357.29,345.25 L360.99,351.95 L353.59,351.95 Z" fill="#00e000"/>
<path d="M370.19,348.65 L373.89,355.35 L366.49,355.35 Z" fill="#00e000"/>
<path d="M383.08,348.65 L386.78,355.35 L379.38,355.35 Z" fill="#00e000"/>
<path d="M395.98,347.25 L399.68,353.95 L392.28,353.95 Z" fill="#00e000"/>
<path d="M408.87,344.25 L412.57,350.95 L405.17,350.95 Z" fill="#00e000"/>
<path d="M421.76,340.25 L425.46,346.95 L418.06,346.95 Z" fill="#00e000"/>
<path d="M434.66,335.05 L438.36,341.75 L430.96,341.75 Z" fill="#00e000"/>
<path d="M447.55,329.95 L451.25,336.65 L443.85,336.65 Z" fill="#00e000"/>
<path d="M460.45,325.05 L464.15,331.75 L456.75,331.75 Z" fill="#00e000"/>
<path d="M473.34,318.95 L477.04,325.65 L469.64,325.65 Z" fill="#00e000"/>
<path d="M486.23,313.45 L489.93,320.15 L482.53,320.15 Z" fill="#00e000"/>
<path d="M499.13,307.35 L502.83,314.05 L495.43,314.05 Z" fill="#00e000"/>
<path d="M512.02,300.85 L515.72,307.55 L508.32,307.55 Z" fill="#00e000"/>
<path d="M524.92,294.65 L528.62,301.35 L521.22,301.35 Z" fill="#00e000"/>
<path d="M537.81,288.65 L541.51,295.35 L534.11,295.35 Z" fill="#00e000"/>
<path d="M340.7,325.25 L348.1,325.25 L344.4,331.95 Z" fill="#0000f0"/>
<path d="M353.59,332.25 L360.99,332.25 L357.29,338.95 Z" fill="#0000f0"/>
<path d="M366.49,332.25 L373.89,332.25 L370.19,338.95 Z" fill="#0000f0"/>
<path d="M379.38,330.85 L386.78,330.85 L383.08,337.55 Z" fill="#0000f0"/>
<path d="M392.28,327.25 L399.68,327.25 L395.98,333.95 Z" fill="#0000f0"/>
<path d="M405.17,321.65 L412.57,321.65 L408.87,328.35 Z" fill="#0000f0"/>
<path d="M418.06,314.85 L425.46,314.85 L421.76,321.55 Z" fill="#0000f0"/>
<path d="M430.96,307.65 L438.36,307.65 L434.66,314.35 Z" fill="#0000f0"/>
<path d="M443.85,299.55 L451.25,299.55 L447.55,306.25 Z" fill="#0000f0"/>
<path d="M456.75,292.45 L464.15,292.45 L460.45,299.15 Z" fill="#0000f0"/>
<path d="M469.64,284.85 L477.04,284.85 L473.34,291.55 Z" fill="#0000f0"/>
<path d="M482.53,277.85 L489.93,277.85 L486.23,284.55 Z" fill="#0000f0"/>
<path d="M495.43,270.25 L502.83,270.25 L499.13,276.95 Z" fill="#0000f0"/>
<path d="M508.32,262.85 L515.72,262.85 L512.02,269.55 Z" fill="#0000f0"/>
<path d="M521.22,256.25 L528.62,256.25 L524.92,262.95 Z" fill="#0000f0"/>
<path d="M534.11,249.65 L541.51,249.65 L537.81,256.35 Z" fill="#0000f0"/>
</svg>
</body></html>
